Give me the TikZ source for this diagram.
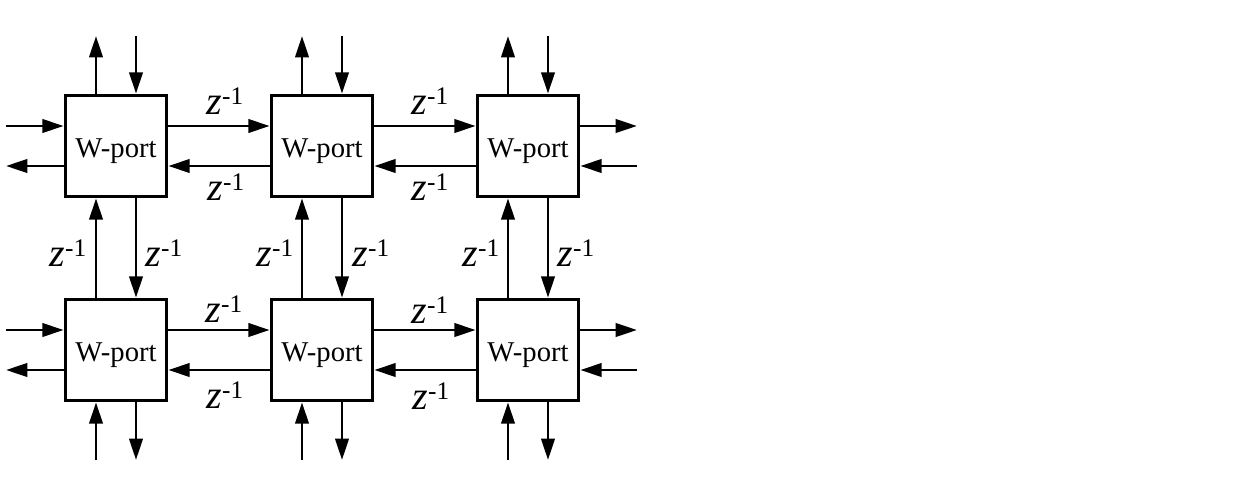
\documentclass[tikz,border=0pt]{standalone}
\usepackage{fontspec}
\setmainfont{Liberation Serif}
\usetikzlibrary{arrows.meta}
\newcommand\zminus{{\fontsize{30}{30}\selectfont\itshape z}\raisebox{8pt}{\fontsize{19}{19}\selectfont -1}}
\newcommand\wport{\raisebox{-4pt}[14pt][5pt]{W-port}}
\begin{document}
\begin{tikzpicture}[x=0.75pt,y=-0.75pt,
  box/.style={draw,line width=2.5pt,minimum width=76pt,minimum height=76pt,inner sep=0pt,font=\fontsize{21.5}{21.5}\selectfont},
  arr/.style={line width=2.2pt,-{Triangle[length=16pt,width=10pt]}},
  lab/.style={inner sep=0pt}]
\useasboundingbox (0,0) rectangle (1243,482);
% boxes
\foreach \i/\x in {1/116,2/322,3/528}{
  \node[box] (a\i) at (\x,146) {\wport};
  \node[box] (b\i) at (\x,350) {\wport};
}
% horizontal connectors between boxes
\foreach \r in {a,b}{
  \draw[arr] ([yshift=15pt]\r1.east) -- ([yshift=15pt]\r2.west);
  \draw[arr] ([yshift=-15pt]\r2.west) -- ([yshift=-15pt]\r1.east);
  \draw[arr] ([yshift=15pt]\r2.east) -- ([yshift=15pt]\r3.west);
  \draw[arr] ([yshift=-15pt]\r3.west) -- ([yshift=-15pt]\r2.east);
}
% vertical connectors between rows
\foreach \i in {1,2,3}{
  \draw[arr] ([xshift=-15pt]b\i.north) -- ([xshift=-15pt]a\i.south);
  \draw[arr] ([xshift=15pt]a\i.south) -- ([xshift=15pt]b\i.north);
}
% external top / bottom
\foreach \i/\x in {1/116,2/322,3/528}{
  \coordinate (tu\i) at (\x-20,36);
  \coordinate (td\i) at (\x+20,36);
  \coordinate (bu\i) at (\x-20,460);
  \coordinate (bd\i) at (\x+20,460);
  \draw[arr] ([xshift=-15pt]a\i.north) -- (tu\i);
  \draw[arr] (td\i) -- ([xshift=15pt]a\i.north);
  \draw[arr] (bu\i) -- ([xshift=-15pt]b\i.south);
  \draw[arr] ([xshift=15pt]b\i.south) -- (bd\i);
}
% external left / right
\foreach \r/\y in {a/146,b/350}{
  \coordinate (li\r) at (6,\y-20);
  \coordinate (lo\r) at (6,\y+20);
  \coordinate (ro\r) at (637,\y-20);
  \coordinate (ri\r) at (637,\y+20);
  \draw[arr] (li\r) -- ([yshift=15pt]\r1.west);
  \draw[arr] ([yshift=-15pt]\r1.west) -- (lo\r);
  \draw[arr] ([yshift=15pt]\r3.east) -- (ro\r);
  \draw[arr] (ri\r) -- ([yshift=-15pt]\r3.east);
}
% labels
\node[lab] (h11) at (225,101) {\zminus};
\node[lab] (h12) at (226,187) {\zminus};
\node[lab] (h21) at (430,101) {\zminus};
\node[lab] (h22) at (430,187) {\zminus};
\node[lab] (h31) at (224,309) {\zminus};
\node[lab] (h32) at (225,395) {\zminus};
\node[lab] (h41) at (430,310) {\zminus};
\node[lab] (h42) at (431,396) {\zminus};
\node[lab] (v11) at (68,253) {\zminus};
\node[lab] (v12) at (164,253) {\zminus};
\node[lab] (v21) at (275,253) {\zminus};
\node[lab] (v22) at (371,253) {\zminus};
\node[lab] (v31) at (481,253) {\zminus};
\node[lab] (v32) at (576,253) {\zminus};
\end{tikzpicture}
\end{document}
